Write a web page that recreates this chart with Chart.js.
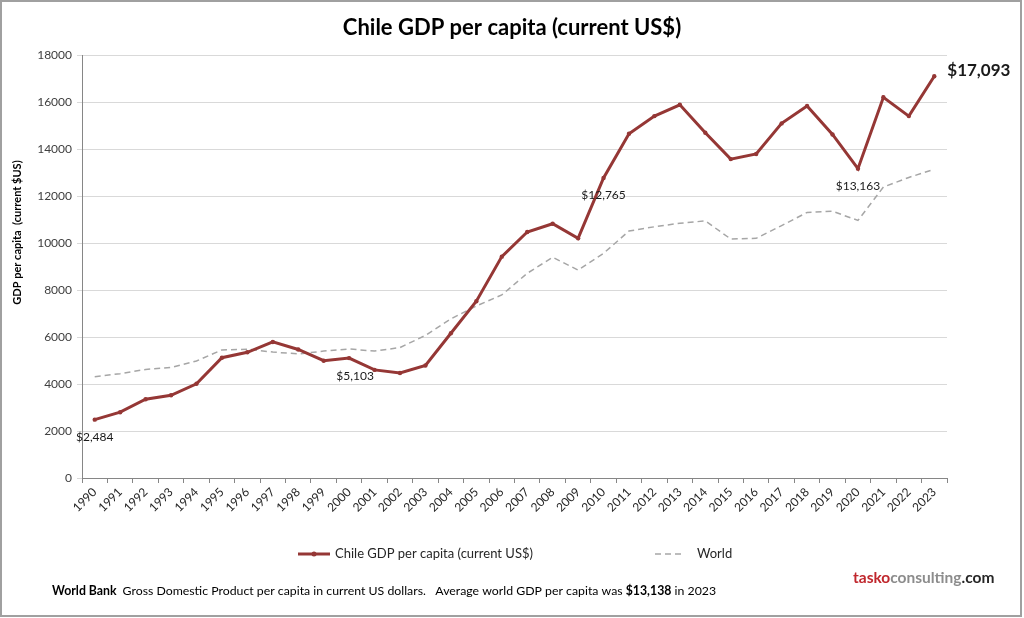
<!DOCTYPE html>
<html>
<head>
<meta charset="utf-8">
<script src="https://cdn.jsdelivr.net/npm/chart.js@4/dist/chart.umd.min.js"></script>
<style>
html,body{margin:0;padding:0;background:#fff;}
#wrap{width:1024px;height:618px;position:relative;}
canvas{display:block;}
</style>
</head>
<body>
<div id="wrap"><canvas id="c" width="1024" height="618"></canvas></div>
<script>
// ---------------- data ----------------
const years = ['1990','1991','1992','1993','1994','1995','1996','1997','1998','1999',
               '2000','2001','2002','2003','2004','2005','2006','2007','2008','2009',
               '2010','2011','2012','2013','2014','2015','2016','2017','2018','2019',
               '2020','2021','2022','2023'];
const chileGdp = [2484, 2800, 3350, 3520, 4010, 5120, 5350, 5790, 5470, 4990,
                  5103, 4600, 4470, 4790, 6160, 7520, 9420, 10470, 10820, 10200,
                  12765, 14650, 15400, 15880, 14690, 13570, 13790, 15090, 15830, 14620,
                  13163, 16200, 15400, 17093];
const worldGdp = [4310, 4440, 4620, 4700, 4980, 5450, 5480, 5360, 5280, 5400,
                  5490, 5400, 5550, 6070, 6770, 7320, 7790, 8710, 9390, 8850,
                  9560, 10510, 10690, 10840, 10940, 10170, 10200, 10740, 11300, 11350,
                  10960, 12380, 12790, 13138];
const yTicks = [0, 2000, 4000, 6000, 8000, 10000, 12000, 14000, 16000, 18000];
const annotatedYears = ['1990', '2000', '2010', '2020', '2023'];
const seriesNames = ['Chile GDP per capita (current US$)', 'World'];
const chartTitle = 'Chile GDP per capita (current US$)';
const yAxisTitle = 'GDP per capita  (current $US)';
const worldAvg2023 = worldGdp[worldGdp.length - 1];

// ---------------- styles ----------------
const FONT = 'Lato, "Open Sans", "DejaVu Sans", sans-serif';
const CHILE_COLOR = '#953735';
const WORLD_COLOR = '#a6a6a6';
const labelStyle = {
  '1990': {dx: 0,  dy: 17, align: 'center', font: '12px ' + FONT},
  '2000': {dx: 6,  dy: 18, align: 'center', font: '12px ' + FONT},
  '2010': {dx: 0,  dy: 17, align: 'center', font: '12px ' + FONT},
  '2020': {dx: 0,  dy: 17, align: 'center', font: '12px ' + FONT},
  '2023': {dx: 13, dy: -6, align: 'left',  font: 'bold 17px ' + FONT}
};
const fmt = v => '$' + v.toLocaleString('en-US');

const decor = {
  id: 'decor',
  afterDatasetsDraw(chart) {
    const ctx = chart.ctx;
    const meta = chart.getDatasetMeta(0);
    ctx.save();
    ctx.fillStyle = '#1a1a1a';
    ctx.textBaseline = 'middle';
    annotatedYears.forEach(y => {
      const i = years.indexOf(y);
      const el = meta.data[i];
      const s = labelStyle[y];
      ctx.font = s.font;
      ctx.textAlign = s.align;
      ctx.fillText(fmt(chileGdp[i]), el.x + s.dx, el.y + s.dy);
    });
    ctx.restore();
  },
  afterDraw(chart) {
    const ctx = chart.ctx;
    const area = chart.chartArea;
    ctx.save();
    // chart title
    ctx.font = 'bold 22px ' + FONT;
    ctx.fillStyle = '#000';
    ctx.textAlign = 'center';
    ctx.textBaseline = 'middle';
    ctx.fillText(chartTitle, 512, 28);

    // y axis title
    ctx.save();
    ctx.translate(17, (area.top + area.bottom) / 2 - 34);
    ctx.rotate(-Math.PI / 2);
    ctx.font = 'bold 11px ' + FONT;
    ctx.fillText(yAxisTitle, 0, 0);
    ctx.restore();

    // legend
    const ds = chart.data.datasets;
    const ly = 554;
    ctx.lineWidth = ds[0].borderWidth;
    ctx.strokeStyle = ds[0].borderColor;
    ctx.beginPath(); ctx.moveTo(298, ly); ctx.lineTo(330, ly); ctx.stroke();
    ctx.fillStyle = ds[0].borderColor;
    ctx.beginPath(); ctx.arc(314, ly, 2.5, 0, Math.PI * 2); ctx.fill();
    ctx.lineWidth = ds[1].borderWidth;
    ctx.strokeStyle = ds[1].borderColor;
    ctx.setLineDash(ds[1].borderDash);
    ctx.beginPath(); ctx.moveTo(655, ly); ctx.lineTo(681, ly); ctx.stroke();
    ctx.setLineDash([]);
    ctx.font = '13px ' + FONT;
    ctx.fillStyle = '#262626';
    ctx.textAlign = 'left';
    ctx.fillText(ds[0].label, 335, ly);
    ctx.fillText(ds[1].label, 697, ly);

    // footer
    let x = 52;
    const fy = 591;
    const runs = [
      ['bold 12.3px ' + FONT, 'World Bank  '],
      ['12.3px ' + FONT, 'Gross Domestic Product per capita in current US dollars.   Average world GDP per capita was '],
      ['bold 12.3px ' + FONT, fmt(worldAvg2023)],
      ['12.3px ' + FONT, ' in 2023']
    ];
    ctx.fillStyle = '#000';
    runs.forEach(r => { ctx.font = r[0]; ctx.fillText(r[1], x, fy); x += ctx.measureText(r[1]).width; });

    // logo
    x = 853;
    const logo = [['tasko', '#c0272d'], ['consulting', '#8c8c8c'], ['.com', '#262626']];
    ctx.font = 'bold 15.5px ' + FONT;
    logo.forEach(r => { ctx.fillStyle = r[1]; ctx.fillText(r[0], x, 578); x += ctx.measureText(r[0]).width; });

    // outer border
    ctx.strokeStyle = '#a0a0a0';
    ctx.lineWidth = 2;
    ctx.strokeRect(1, 1, 1020, 615);
    ctx.restore();
  }
};

new Chart(document.getElementById('c'), {
  type: 'line',
  data: {
    labels: years,
    datasets: [
      {
        label: seriesNames[0],
        data: chileGdp,
        borderColor: CHILE_COLOR,
        backgroundColor: CHILE_COLOR,
        borderWidth: 3,
        pointRadius: 2.2,
        pointBorderWidth: 0,
        pointBackgroundColor: CHILE_COLOR,
        tension: 0,
        order: 1
      },
      {
        label: seriesNames[1],
        data: worldGdp,
        borderColor: WORLD_COLOR,
        backgroundColor: WORLD_COLOR,
        borderWidth: 1.5,
        borderDash: [6, 4],
        pointRadius: 0,
        tension: 0,
        order: 2
      }
    ]
  },
  options: {
    responsive: false,
    animation: false,
    devicePixelRatio: 1,
    layout: {padding: {left: 0, right: 77, top: 55, bottom: 0}},
    plugins: {
      legend: {display: false},
      tooltip: {enabled: false},
      title: {display: false}
    },
    scales: {
      x: {
        offset: true,
        grid: {display: true, offset: true, drawOnChartArea: false, drawTicks: true, tickLength: 5, color: '#868686'},
        border: {display: true, color: '#868686', width: 1},
        ticks: {autoSkip: false, maxRotation: 45, minRotation: 45, padding: 2, color: '#262626',
                font: {family: FONT, size: 12}},
        afterFit(scale) { scale.height = 140; }
      },
      y: {
        min: 0, max: 18000,
        afterBuildTicks(scale) { scale.ticks = yTicks.map(v => ({value: v})); },
        grid: {color: '#d9d9d9', tickLength: 5, drawTicks: true},
        border: {display: true, color: '#868686', width: 1},
        ticks: {padding: 5, color: '#404040', font: {family: FONT, size: 12},
                callback: v => String(v)},
        afterFit(scale) { scale.width = 82; }
      }
    }
  },
  plugins: [decor]
});
</script>
</body>
</html>
